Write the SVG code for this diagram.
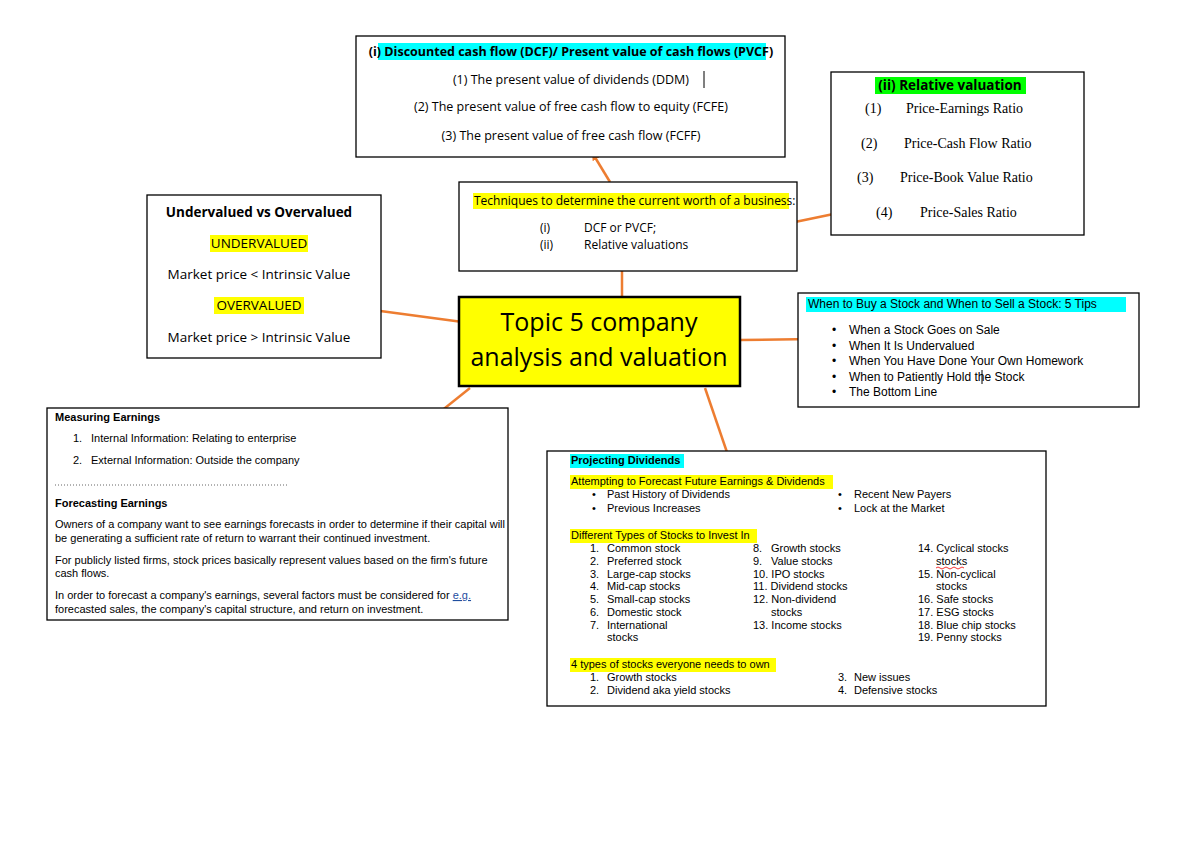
<svg xmlns="http://www.w3.org/2000/svg" width="1200" height="848" viewBox="0 0 1200 848">
<style>
.box{fill:#fff;stroke:#000;stroke-width:1.3}
.c{font-family:"Open Sans","Liberation Sans",sans-serif;font-size:12.5px;fill:#000}
.a{font-family:"Liberation Sans",Arial,sans-serif;font-size:11px;fill:#000}
.s{font-family:"Liberation Serif",serif;font-size:14px;fill:#000}
.b{font-weight:bold}
.conn{stroke:#ED7D31;stroke-width:2.5;fill:none;marker-end:url(#ah)}
</style>
<defs><marker id="ah" markerWidth="8" markerHeight="8" refX="6" refY="4" orient="auto" markerUnits="userSpaceOnUse"><path d="M0,0 L8,4 L0,8 Z" fill="#ED7D31"/></marker></defs>
<rect width="1200" height="848" fill="#fff"/>
<g id="connectors">
<line class="conn" x1="622" y1="297" x2="622" y2="254"/>
<line class="conn" x1="610" y1="182" x2="593" y2="154"/>
<line class="conn" x1="795" y1="222" x2="848" y2="211"/>
<line class="conn" x1="470" y1="323" x2="358" y2="308"/>
<line class="conn" x1="740" y1="340" x2="813" y2="339"/>
<line class="conn" x1="470" y1="388" x2="385" y2="456"/>
<line class="conn" x1="705" y1="388" x2="731" y2="464"/>
</g>
<g id="dcf">
<rect class="box" x="356" y="36" width="429" height="121"/>
<rect x="378" y="43" width="388" height="17" fill="#00FFFF"/>
<text class="c b" x="571" y="56" text-anchor="middle">(i) Discounted cash flow (DCF)/ Present value of cash flows (PVCF)</text>
<text class="c" x="571" y="84" text-anchor="middle">(1)  The present value of dividends (DDM)</text>
<line x1="704" y1="71" x2="704" y2="88" stroke="#000"/>
<text class="c" x="571" y="111" text-anchor="middle">(2) The present value of free cash flow to equity (FCFE)</text>
<text class="c" x="571" y="140" text-anchor="middle">(3) The present value of free cash flow (FCFF)</text>
</g>
<g id="relative">
<rect class="box" x="831" y="72" width="253" height="163"/>
<rect x="875" y="77" width="151" height="17" fill="#00FF00"/>
<text class="c b" x="950" y="90" text-anchor="middle" style="font-size:13.5px">(ii) Relative valuation</text>
<text class="s" x="865" y="113">(1)</text><text class="s" x="906" y="113">Price-Earnings Ratio</text>
<text class="s" x="861" y="148">(2)</text><text class="s" x="904" y="148">Price-Cash Flow Ratio</text>
<text class="s" x="857" y="182">(3)</text><text class="s" x="900" y="182">Price-Book Value Ratio</text>
<text class="s" x="876" y="217">(4)</text><text class="s" x="920" y="217">Price-Sales Ratio</text>
</g>
<g id="techniques">
<rect class="box" x="459" y="182" width="338" height="89"/>
<rect x="473" y="193" width="316" height="16" fill="#FFFF00"/>
<text class="c" x="474" y="205" style="font-size:12px">Techniques to determine the current worth of a business:</text>
<text class="c" x="540" y="232" style="font-size:12px">(i)</text><text class="c" x="584" y="232" style="font-size:12px">DCF or PVCF;</text>
<text class="c" x="540" y="249" style="font-size:12px">(ii)</text><text class="c" x="584" y="249" style="font-size:12px">Relative valuations</text>
</g>
<g id="undervalued">
<rect class="box" x="147" y="195" width="234" height="163"/>
<text class="c b" x="259" y="217" text-anchor="middle" style="font-size:13.5px">Undervalued vs Overvalued</text>
<rect x="210" y="235" width="98" height="17" fill="#FFFF00"/>
<text class="c" x="259" y="248" text-anchor="middle" style="font-size:13.5px">UNDERVALUED</text>
<text class="c" x="259" y="279" text-anchor="middle" style="font-size:13.5px">Market price &lt; Intrinsic Value</text>
<rect x="214" y="297" width="90" height="17" fill="#FFFF00"/>
<text class="c" x="259" y="310" text-anchor="middle" style="font-size:13.5px">OVERVALUED</text>
<text class="c" x="259" y="342" text-anchor="middle" style="font-size:13.5px">Market price &gt; Intrinsic Value</text>
</g>
<g id="topic">
<rect x="459" y="297" width="281" height="89" fill="#FFFF00" stroke="#000" stroke-width="2.5"/>
<text class="c" x="599" y="331" text-anchor="middle" style="font-size:25px">Topic 5 company</text>
<text class="c" x="599" y="366" text-anchor="middle" style="font-size:25px">analysis and valuation</text>
</g>
<g id="when">
<rect class="box" x="798" y="293" width="341" height="114"/>
<rect x="806" y="297" width="320" height="15" fill="#00FFFF"/>
<text class="a" x="808" y="308" style="font-size:12px">When to Buy a Stock and When to Sell a Stock: 5 Tips</text>
<g style="font-size:12px">
<text class="a" x="832" y="334" style="font-size:12px">•</text><text class="a" x="849" y="334" style="font-size:12px">When a Stock Goes on Sale</text>
<text class="a" x="832" y="350" style="font-size:12px">•</text><text class="a" x="849" y="350" style="font-size:12px">When It Is Undervalued</text>
<text class="a" x="832" y="365" style="font-size:12px">•</text><text class="a" x="849" y="365" style="font-size:12px">When You Have Done Your Own Homework</text>
<text class="a" x="832" y="381" style="font-size:12px">•</text><text class="a" x="849" y="381" style="font-size:12px">When to Patiently Hold the Stock</text>
<line x1="982" y1="370" x2="982" y2="384" stroke="#000"/>
<text class="a" x="832" y="396" style="font-size:12px">•</text><text class="a" x="849" y="396" style="font-size:12px">The Bottom Line</text>
</g>
</g>
<g id="measuring">
<rect class="box" x="47" y="408" width="461" height="212"/>
<text class="a b" x="55" y="421">Measuring Earnings</text>
<text class="a" x="73" y="442">1.</text><text class="a" x="91" y="442">Internal Information: Relating to enterprise</text>
<text class="a" x="73" y="464">2.</text><text class="a" x="91" y="464">External Information: Outside the company</text>
<line x1="55" y1="485" x2="288" y2="485" stroke="#666" stroke-dasharray="1,2"/>
<text class="a b" x="55" y="507">Forecasting Earnings</text>
<text class="a" x="55" y="528">Owners of a company want to see earnings forecasts in order to determine if their capital will</text>
<text class="a" x="55" y="542">be generating a sufficient rate of return to warrant their continued investment.</text>
<text class="a" x="55" y="564">For publicly listed firms, stock prices basically represent values based on the firm's future</text>
<text class="a" x="55" y="577">cash flows.</text>
<text class="a" x="55" y="599">In order to forecast a company's earnings, several factors must be considered for <tspan fill="#1F4E9F" text-decoration="underline">e.g.</tspan></text>
<text class="a" x="55" y="613">forecasted sales, the company's capital structure, and return on investment.</text>
</g>
<g id="projecting">
<rect class="box" x="547" y="451" width="499" height="255"/>
<rect x="570" y="454" width="114" height="14" fill="#00FFFF"/>
<text class="a b" x="571" y="464">Projecting Dividends</text>
<rect x="570" y="475" width="263" height="14" fill="#FFFF00"/>
<text class="a" x="571" y="485">Attempting to Forecast Future Earnings &amp; Dividends</text>
<text class="a" x="592" y="498">•</text><text class="a" x="607" y="498">Past History of Dividends</text>
<text class="a" x="592" y="512">•</text><text class="a" x="607" y="512">Previous Increases</text>
<text class="a" x="838" y="498">•</text><text class="a" x="854" y="498">Recent New Payers</text>
<text class="a" x="838" y="512">•</text><text class="a" x="854" y="512">Lock at the Market</text>
<rect x="570" y="529" width="187" height="14" fill="#FFFF00"/>
<text class="a" x="571" y="539">Different Types of Stocks to Invest In</text>
<g class="a">
<text class="a" x="590" y="552">1.</text><text class="a" x="607" y="552">Common stock</text>
<text class="a" x="590" y="565">2.</text><text class="a" x="607" y="565">Preferred stock</text>
<text class="a" x="590" y="578">3.</text><text class="a" x="607" y="578">Large-cap stocks</text>
<text class="a" x="590" y="590">4.</text><text class="a" x="607" y="590">Mid-cap stocks</text>
<text class="a" x="590" y="603">5.</text><text class="a" x="607" y="603">Small-cap stocks</text>
<text class="a" x="590" y="616">6.</text><text class="a" x="607" y="616">Domestic stock</text>
<text class="a" x="590" y="629">7.</text><text class="a" x="607" y="629">International</text>
<text class="a" x="607" y="641">stocks</text>
<text class="a" x="753" y="552">8.</text><text class="a" x="771" y="552">Growth stocks</text>
<text class="a" x="753" y="565">9.</text><text class="a" x="771" y="565">Value stocks</text>
<text class="a" x="753" y="578">10. IPO stocks</text>
<text class="a" x="753" y="590">11. Dividend stocks</text>
<text class="a" x="753" y="603">12. Non-dividend</text>
<text class="a" x="771" y="616">stocks</text>
<text class="a" x="753" y="629">13. Income stocks</text>
<text class="a" x="918" y="552">14. Cyclical stocks</text>
<text class="a" x="936" y="565">stocks</text>
<path d="M936,568 q2,-2 4,0 t4,0 t4,0 t4,0 t4,0 t4,0 t4,0" stroke="#E00" stroke-width="0.8" fill="none"/>
<text class="a" x="918" y="578">15. Non-cyclical</text>
<text class="a" x="936" y="590">stocks</text>
<text class="a" x="918" y="603">16. Safe stocks</text>
<text class="a" x="918" y="616">17. ESG stocks</text>
<text class="a" x="918" y="629">18. Blue chip stocks</text>
<text class="a" x="918" y="641">19. Penny stocks</text>
</g>
<rect x="570" y="658" width="206" height="14" fill="#FFFF00"/>
<text class="a" x="571" y="668">4 types of stocks everyone needs to own</text>
<text class="a" x="590" y="681">1.</text><text class="a" x="607" y="681">Growth stocks</text>
<text class="a" x="590" y="694">2.</text><text class="a" x="607" y="694">Dividend aka yield stocks</text>
<text class="a" x="838" y="681">3.</text><text class="a" x="854" y="681">New issues</text>
<text class="a" x="838" y="694">4.</text><text class="a" x="854" y="694">Defensive stocks</text>
</g>
</svg>
